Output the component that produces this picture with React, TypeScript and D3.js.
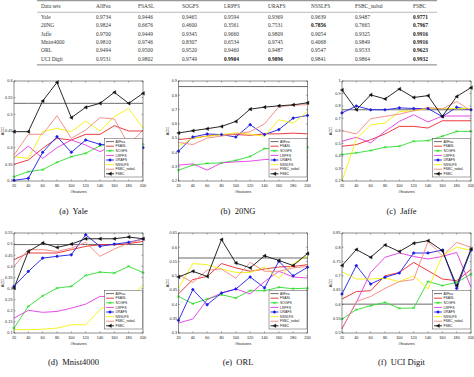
import React from "react";
import * as d3 from "d3";

// ---------- table data ----------
const tableHeader = ["Data sets", "AllFea", "FSASL", "SOGFS", "LRPFS", "URAFS", "NSSLFS", "FSBC_nobal", "FSBC"];
const tableDatasets = ["Yale", "20NG", "Jaffe", "Mnist4000", "ORL", "UCI Digit"];
const tableValues = [
  [0.9734, 0.9446, 0.9465, 0.9594, 0.9369, 0.9639, 0.9487, 0.9771],
  [0.9824, 0.6676, 0.46, 0.3561, 0.7531, 0.7856, 0.7665, 0.7967],
  [0.97, 0.9449, 0.9345, 0.966, 0.9809, 0.9054, 0.9325, 0.9916],
  [0.981, 0.9746, 0.8307, 0.6534, 0.9745, 0.4068, 0.9849, 0.9916],
  [0.9494, 0.95, 0.952, 0.946, 0.9487, 0.9547, 0.9533, 0.9623],
  [0.9531, 0.9802, 0.9749, 0.9904, 0.9896, 0.9841, 0.9864, 0.9932],
];
const tableBold = [[7], [5, 7], [7], [7], [7], [3, 4, 7]];

// ---------- chart data ----------
const features = [20, 40, 60, 80, 100, 120, 140, 160, 180, 200];
const methods = ["AllFea", "FSASL", "SOGFS", "LRPFS", "URAFS", "NSSLFS", "FSBC_nobal", "FSBC"];
const captions = ["(a)  Yale", "(b)  20NG", "(c)  Jaffe", "(d)  Mnist4000", "(e)  ORL", "(f)  UCI Digit"];
const yDomains = [[0.3, 0.6], [0.2, 0.9], [0.2, 1], [0.1, 0.55], [0.3, 0.65], [0.5, 0.85]];
const yTickSteps = [0.05, 0.1, 0.1, 0.05, 0.05, 0.05];
const allFeaAcc = [0.533, 0.861, 0.77, 0.498, 0.5625, 0.601];

// order: FSASL, SOGFS, LRPFS, URAFS, NSSLFS, FSBC_nobal, FSBC
const yaleSeries = [
  [0.35, 0.363, 0.398, 0.428, 0.423, 0.44, 0.44, 0.466, 0.45, 0.45],
  [0.313, 0.328, 0.334, 0.356, 0.373, 0.383, 0.406, 0.415, 0.418, 0.41],
  [0.37, 0.405, 0.368, 0.4, 0.423, 0.408, 0.388, 0.41, 0.4, 0.353],
  [0.302, 0.308, 0.386, 0.433, 0.386, 0.423, 0.41, 0.405, 0.4, 0.4],
  [0.373, 0.368, 0.448, 0.458, 0.448, 0.48, 0.45, 0.493, 0.518, 0.458],
  [0.378, 0.44, 0.44, 0.496, 0.428, 0.453, 0.49, 0.486, 0.408, 0.453],
  [0.448, 0.448, 0.54, 0.596, 0.49, 0.521, 0.533, 0.566, 0.533, 0.563],
];
const ngSeries = [
  [0.49, 0.5, 0.515, 0.525, 0.525, 0.52, 0.53, 0.53, 0.535, 0.53],
  [0.276, 0.311, 0.323, 0.327, 0.344, 0.372, 0.427, 0.427, 0.432, 0.436],
  [0.311, 0.32, 0.276, 0.327, 0.334, 0.339, 0.35, 0.355, 0.362, 0.362],
  [0.409, 0.508, 0.529, 0.525, 0.508, 0.594, 0.525, 0.56, 0.64, 0.659],
  [0.443, 0.5, 0.513, 0.525, 0.536, 0.529, 0.513, 0.629, 0.605, 0.687],
  [0.47, 0.455, 0.5, 0.515, 0.53, 0.545, 0.6, 0.72, 0.73, 0.735],
  [0.536, 0.552, 0.566, 0.582, 0.617, 0.703, 0.717, 0.726, 0.733, 0.747],
];
const jaffeSeries = [
  [0.478, 0.491, 0.531, 0.576, 0.637, 0.637, 0.624, 0.682, 0.682, 0.682],
  [0.412, 0.425, 0.444, 0.47, 0.478, 0.518, 0.523, 0.558, 0.597, 0.597],
  [0.518, 0.55, 0.505, 0.597, 0.677, 0.73, 0.672, 0.72, 0.72, 0.72],
  [0.745, 0.8, 0.77, 0.77, 0.785, 0.78, 0.78, 0.715, 0.79, 0.77],
  [0.2, 0.535, 0.65, 0.663, 0.756, 0.762, 0.78, 0.78, 0.78, 0.78],
  [0.603, 0.576, 0.698, 0.717, 0.735, 0.762, 0.788, 0.777, 0.836, 0.762],
  [0.928, 0.77, 0.889, 0.857, 0.936, 0.868, 0.883, 0.717, 0.876, 0.947],
];
const mnistSeries = [
  [0.43, 0.46, 0.46, 0.46, 0.475, 0.49, 0.497, 0.497, 0.502, 0.512],
  [0.122, 0.22, 0.267, 0.302, 0.31, 0.359, 0.374, 0.37, 0.4, 0.372],
  [0.167, 0.202, 0.193, 0.197, 0.212, 0.23, 0.265, 0.262, 0.272, 0.283],
  [0.31, 0.377, 0.437, 0.445, 0.452, 0.542, 0.49, 0.5, 0.508, 0.523],
  [0.115, 0.115, 0.117, 0.122, 0.137, 0.137, 0.205, 0.24, 0.25, 0.317],
  [0.4, 0.475, 0.475, 0.467, 0.482, 0.508, 0.445, 0.478, 0.505, 0.523],
  [0.302, 0.467, 0.505, 0.485, 0.5, 0.524, 0.524, 0.524, 0.532, 0.524],
];
const orlSeries = [
  [0.437, 0.487, 0.498, 0.543, 0.528, 0.516, 0.524, 0.531, 0.533, 0.539],
  [0.428, 0.4025, 0.419, 0.434, 0.4225, 0.448, 0.448, 0.46, 0.455, 0.457],
  [0.335, 0.349, 0.4165, 0.44, 0.454, 0.437, 0.48, 0.516, 0.496, 0.4925],
  [0.344, 0.452, 0.399, 0.44, 0.454, 0.496, 0.458, 0.551, 0.5, 0.53],
  [0.4575, 0.543, 0.539, 0.524, 0.512, 0.512, 0.531, 0.492, 0.543, 0.57],
  [0.504, 0.477, 0.52, 0.524, 0.492, 0.547, 0.516, 0.516, 0.528, 0.533],
  [0.496, 0.516, 0.498, 0.627, 0.545, 0.528, 0.57, 0.554, 0.536, 0.578],
];
const uciSeries = [
  [0.619, 0.645, 0.648, 0.7, 0.712, 0.747, 0.718, 0.689, 0.683, 0.722],
  [0.549, 0.5815, 0.5955, 0.607, 0.5865, 0.5875, 0.68, 0.666, 0.677, 0.7065],
  [0.516, 0.607, 0.712, 0.765, 0.78, 0.768, 0.759, 0.768, 0.782, 0.66],
  [0.6365, 0.736, 0.6715, 0.695, 0.71, 0.78, 0.78, 0.79, 0.656, 0.79],
  [0.7145, 0.689, 0.689, 0.692, 0.68, 0.7, 0.654, 0.77, 0.8, 0.79],
  [0.514, 0.61, 0.628, 0.656, 0.68, 0.687, 0.82, 0.77, 0.817, 0.8],
  [0.736, 0.792, 0.765, 0.808, 0.785, 0.814, 0.823, 0.788, 0.666, 0.794],
];
const datasetSeries = [yaleSeries, ngSeries, jaffeSeries, mnistSeries, orlSeries, uciSeries];

// ---------- styles ----------
const methodColors = ["#5a5a5a", "#e8262a", "#2edc2e", "#e33ae3", "#1c1ce8", "#f2f20a", "#f2877e", "#111111"];
const methodMarkers = ["none", "none", "star", "none", "dotstar", "none", "none", "tri"];

const colLefts = [14, 178.5, 342];
const rowTops = [81, 233];
const plotW = 129;
const plotH = 100;

const fmtTick = (v: number) => String(+v.toFixed(2));

function Marker({ kind, x, y, color }: { kind: string; x: number; y: number; color: string }) {
  const r = 1.6;
  if (kind === "star") {
    return (
      <g stroke={color} strokeWidth={0.55}>
        <line x1={x - r} y1={y} x2={x + r} y2={y} />
        <line x1={x - r * 0.6} y1={y - r * 0.8} x2={x + r * 0.6} y2={y + r * 0.8} />
        <line x1={x - r * 0.6} y1={y + r * 0.8} x2={x + r * 0.6} y2={y - r * 0.8} />
      </g>
    );
  }
  if (kind === "dotstar") {
    return (
      <g stroke={color} strokeWidth={0.55}>
        <circle cx={x} cy={y} r={1.1} fill={color} />
        <line x1={x - r} y1={y} x2={x + r} y2={y} />
        <line x1={x} y1={y - r} x2={x} y2={y + r} />
      </g>
    );
  }
  if (kind === "tri") {
    const s = 1.8;
    return <path d={`M${x - s},${y} L${x + s * 0.8},${y - s} L${x + s * 0.8},${y + s} Z`} fill={color} stroke={color} strokeWidth={0.3} />;
  }
  return null;
}

function Panel({ idx }: { idx: number }) {
  const left = colLefts[idx % 3];
  const top = rowTops[Math.floor(idx / 3)];
  const right = left + plotW;
  const bottom = top + plotH;
  const x = d3.scaleLinear().domain([20, 200]).range([left, right]);
  const [y0, y1] = yDomains[idx];
  const y = d3.scaleLinear().domain([y0, y1]).range([bottom, top]);
  const step = yTickSteps[idx];
  const yTicks = d3.range(0, Math.round((y1 - y0) / step) + 1).map((i) => +(y0 + i * step).toFixed(3));
  const line = d3.line<number>().x((_, i) => x(features[i])).y((d) => y(d));
  const series = datasetSeries[idx];
  const allLine = features.map(() => allFeaAcc[idx]);
  const lines = [allLine, ...series];
  const tk = 1.5;

  const legW = 38;
  const legRowH = 4.6;
  const legH = legRowH * methods.length + 1.5;
  const legX = right - legW - 0.5;
  const legY = bottom - legH - 4;

  const capY = idx < 3 ? 213.5 : 364.5;
  const capX = (left + right) / 2 - 5;

  return (
    <g>
      {lines.map((vals, m) => (
        <path key={m} d={line(vals) || ""} fill="none" stroke={methodColors[m]} strokeWidth={0.9} />
      ))}
      {lines.map((vals, m) =>
        methodMarkers[m] === "none"
          ? null
          : vals.map((v, i) => <Marker key={`${m}-${i}`} kind={methodMarkers[m]} x={x(features[i])} y={y(v)} color={methodColors[m]} />)
      )}
      <rect x={left} y={top} width={plotW} height={plotH} fill="none" stroke="#222" strokeWidth={0.5} />
      {features.map((f) => (
        <g key={f} stroke="#222" strokeWidth={0.4}>
          <line x1={x(f)} x2={x(f)} y1={bottom} y2={bottom - tk} />
          <line x1={x(f)} x2={x(f)} y1={top} y2={top + tk} />
        </g>
      ))}
      {yTicks.map((t) => (
        <g key={t} stroke="#222" strokeWidth={0.4}>
          <line x1={left} x2={left + tk} y1={y(t)} y2={y(t)} />
          <line x1={right} x2={right - tk} y1={y(t)} y2={y(t)} />
        </g>
      ))}
      {features.map((f) => (
        <text key={f} x={x(f)} y={bottom + 5.5} fontSize={3.8} textAnchor="middle" fill="#222" fontFamily="Liberation Sans, Arial, sans-serif">
          {f}
        </text>
      ))}
      {yTicks.map((t) => (
        <text key={t} x={left - 1.5} y={y(t) + 1.3} fontSize={3.8} textAnchor="end" fill="#222" fontFamily="Liberation Sans, Arial, sans-serif">
          {fmtTick(t)}
        </text>
      ))}
      <text x={(left + right) / 2} y={bottom + 11.5} fontSize={4} textAnchor="middle" fill="#222" fontFamily="Liberation Sans, Arial, sans-serif">
        #features
      </text>
      <text
        transform={`translate(${left - 10},${(top + bottom) / 2}) rotate(-90)`}
        fontSize={4}
        textAnchor="middle"
        fill="#222"
        fontFamily="Liberation Sans, Arial, sans-serif"
      >
        ACC
      </text>
      <rect x={legX} y={legY} width={legW} height={legH} fill="#fff" stroke="#222" strokeWidth={0.4} />
      {methods.map((name, m) => {
        const ly = legY + 2.9 + m * legRowH;
        return (
          <g key={name}>
            <line x1={legX + 1.5} x2={legX + 9.5} y1={ly} y2={ly} stroke={methodColors[m]} strokeWidth={0.9} />
            {methodMarkers[m] !== "none" && <Marker kind={methodMarkers[m]} x={legX + 5.5} y={ly} color={methodColors[m]} />}
            <text x={legX + 11} y={ly + 1.2} fontSize={3.4} fill="#222" fontFamily="Liberation Sans, Arial, sans-serif">
              {name}
            </text>
          </g>
        );
      })}
      <text x={capX} y={capY} fontSize={8.5} textAnchor="middle" fill="#111" fontFamily="Liberation Serif, Times New Roman, serif" style={{ whiteSpace: "pre" }}>
        {captions[idx]}
      </text>
    </g>
  );
}

function Table() {
  const colX = [41, 96, 138, 182, 224, 268, 311, 355, 413];
  const headerY = 8;
  const rowY = d3.scaleLinear().domain([0, 5]).range([18.8, 60.6]);
  const font = "Liberation Serif, Times New Roman, serif";
  return (
    <g fontFamily={font} fontSize={5.4} fill="#333">
      <line x1={37} x2={437} y1={0.6} y2={0.6} stroke="#999" strokeWidth={1.2} />
      <line x1={37} x2={437} y1={12.3} y2={12.3} stroke="#777" strokeWidth={0.5} />
      <line x1={37} x2={437} y1={64.8} y2={64.8} stroke="#999" strokeWidth={1.2} />
      {tableHeader.map((h, i) => (
        <text key={h} x={colX[i]} y={headerY}>
          {h}
        </text>
      ))}
      {tableDatasets.map((ds, r) => (
        <g key={ds}>
          <text x={colX[0]} y={rowY(r)}>
            {ds}
          </text>
          {tableValues[r].map((v, c) => (
            <text key={c} x={colX[c + 1]} y={rowY(r)} fontWeight={tableBold[r].includes(c) ? "bold" : "normal"} fill={tableBold[r].includes(c) ? "#111" : "#333"}>
              {v.toFixed(4)}
            </text>
          ))}
        </g>
      ))}
    </g>
  );
}

export default function App() {
  return (
    <svg width={474} height={377} style={{ position: "absolute", left: 0, top: 0, background: "#fff" }}>
      <rect x={0} y={0} width={474} height={377} fill="#fff" />
      <Table />
      {d3.range(6).map((i) => (
        <Panel key={i} idx={i} />
      ))}
    </svg>
  );
}
